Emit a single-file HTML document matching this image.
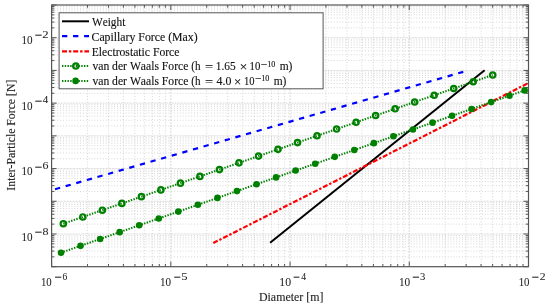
<!DOCTYPE html>
<html><head><meta charset="utf-8"><style>
html,body{margin:0;padding:0;background:#fff;overflow:hidden}
svg{display:block;filter:blur(0.3px)}
text{font-kerning:none}
</style></head><body>
<svg width="550" height="308" viewBox="0 0 550 308">
<rect x="0" y="0" width="550" height="308" fill="#fff"/>
<g fill="none" stroke-width="0.8">
<line x1="87.49" y1="5.00" x2="87.49" y2="266.70" stroke="#c8c8c8" stroke-dasharray="0.9 1.95"/>
<line x1="108.48" y1="5.00" x2="108.48" y2="266.70" stroke="#c8c8c8" stroke-dasharray="0.9 1.95"/>
<line x1="123.38" y1="5.00" x2="123.38" y2="266.70" stroke="#c8c8c8" stroke-dasharray="0.9 1.95"/>
<line x1="134.93" y1="5.00" x2="134.93" y2="266.70" stroke="#c8c8c8" stroke-dasharray="0.9 1.95"/>
<line x1="144.38" y1="5.00" x2="144.38" y2="266.70" stroke="#c8c8c8" stroke-dasharray="0.9 1.95"/>
<line x1="152.36" y1="5.00" x2="152.36" y2="266.70" stroke="#c8c8c8" stroke-dasharray="0.9 1.95"/>
<line x1="159.27" y1="5.00" x2="159.27" y2="266.70" stroke="#c8c8c8" stroke-dasharray="0.9 1.95"/>
<line x1="165.37" y1="5.00" x2="165.37" y2="266.70" stroke="#c8c8c8" stroke-dasharray="0.9 1.95"/>
<line x1="170.82" y1="5.00" x2="170.82" y2="266.70" stroke="#cfcfcf" stroke-width="0.8" stroke-dasharray="2 1"/>
<line x1="206.72" y1="5.00" x2="206.72" y2="266.70" stroke="#c8c8c8" stroke-dasharray="0.9 1.95"/>
<line x1="227.71" y1="5.00" x2="227.71" y2="266.70" stroke="#c8c8c8" stroke-dasharray="0.9 1.95"/>
<line x1="242.61" y1="5.00" x2="242.61" y2="266.70" stroke="#c8c8c8" stroke-dasharray="0.9 1.95"/>
<line x1="254.16" y1="5.00" x2="254.16" y2="266.70" stroke="#c8c8c8" stroke-dasharray="0.9 1.95"/>
<line x1="263.60" y1="5.00" x2="263.60" y2="266.70" stroke="#c8c8c8" stroke-dasharray="0.9 1.95"/>
<line x1="271.58" y1="5.00" x2="271.58" y2="266.70" stroke="#c8c8c8" stroke-dasharray="0.9 1.95"/>
<line x1="278.50" y1="5.00" x2="278.50" y2="266.70" stroke="#c8c8c8" stroke-dasharray="0.9 1.95"/>
<line x1="284.59" y1="5.00" x2="284.59" y2="266.70" stroke="#c8c8c8" stroke-dasharray="0.9 1.95"/>
<line x1="290.05" y1="5.00" x2="290.05" y2="266.70" stroke="#cfcfcf" stroke-width="0.8" stroke-dasharray="2 1"/>
<line x1="325.94" y1="5.00" x2="325.94" y2="266.70" stroke="#c8c8c8" stroke-dasharray="0.9 1.95"/>
<line x1="346.93" y1="5.00" x2="346.93" y2="266.70" stroke="#c8c8c8" stroke-dasharray="0.9 1.95"/>
<line x1="361.83" y1="5.00" x2="361.83" y2="266.70" stroke="#c8c8c8" stroke-dasharray="0.9 1.95"/>
<line x1="373.38" y1="5.00" x2="373.38" y2="266.70" stroke="#c8c8c8" stroke-dasharray="0.9 1.95"/>
<line x1="382.83" y1="5.00" x2="382.83" y2="266.70" stroke="#c8c8c8" stroke-dasharray="0.9 1.95"/>
<line x1="390.81" y1="5.00" x2="390.81" y2="266.70" stroke="#c8c8c8" stroke-dasharray="0.9 1.95"/>
<line x1="397.72" y1="5.00" x2="397.72" y2="266.70" stroke="#c8c8c8" stroke-dasharray="0.9 1.95"/>
<line x1="403.82" y1="5.00" x2="403.82" y2="266.70" stroke="#c8c8c8" stroke-dasharray="0.9 1.95"/>
<line x1="409.27" y1="5.00" x2="409.27" y2="266.70" stroke="#cfcfcf" stroke-width="0.8" stroke-dasharray="2 1"/>
<line x1="445.17" y1="5.00" x2="445.17" y2="266.70" stroke="#c8c8c8" stroke-dasharray="0.9 1.95"/>
<line x1="466.16" y1="5.00" x2="466.16" y2="266.70" stroke="#c8c8c8" stroke-dasharray="0.9 1.95"/>
<line x1="481.06" y1="5.00" x2="481.06" y2="266.70" stroke="#c8c8c8" stroke-dasharray="0.9 1.95"/>
<line x1="492.61" y1="5.00" x2="492.61" y2="266.70" stroke="#c8c8c8" stroke-dasharray="0.9 1.95"/>
<line x1="502.05" y1="5.00" x2="502.05" y2="266.70" stroke="#c8c8c8" stroke-dasharray="0.9 1.95"/>
<line x1="510.03" y1="5.00" x2="510.03" y2="266.70" stroke="#c8c8c8" stroke-dasharray="0.9 1.95"/>
<line x1="516.95" y1="5.00" x2="516.95" y2="266.70" stroke="#c8c8c8" stroke-dasharray="0.9 1.95"/>
<line x1="523.04" y1="5.00" x2="523.04" y2="266.70" stroke="#c8c8c8" stroke-dasharray="0.9 1.95"/>
<line x1="51.60" y1="256.85" x2="528.50" y2="256.85" stroke="#c8c8c8" stroke-dasharray="0.9 1.95"/>
<line x1="51.60" y1="251.09" x2="528.50" y2="251.09" stroke="#c8c8c8" stroke-dasharray="0.9 1.95"/>
<line x1="51.60" y1="247.01" x2="528.50" y2="247.01" stroke="#c8c8c8" stroke-dasharray="0.9 1.95"/>
<line x1="51.60" y1="243.83" x2="528.50" y2="243.83" stroke="#c8c8c8" stroke-dasharray="0.9 1.95"/>
<line x1="51.60" y1="241.24" x2="528.50" y2="241.24" stroke="#c8c8c8" stroke-dasharray="0.9 1.95"/>
<line x1="51.60" y1="239.05" x2="528.50" y2="239.05" stroke="#c8c8c8" stroke-dasharray="0.9 1.95"/>
<line x1="51.60" y1="237.16" x2="528.50" y2="237.16" stroke="#c8c8c8" stroke-dasharray="0.9 1.95"/>
<line x1="51.60" y1="235.48" x2="528.50" y2="235.48" stroke="#c8c8c8" stroke-dasharray="0.9 1.95"/>
<line x1="51.60" y1="233.99" x2="528.50" y2="233.99" stroke="#cfcfcf" stroke-width="0.8" stroke-dasharray="2 1"/>
<line x1="51.60" y1="224.14" x2="528.50" y2="224.14" stroke="#c8c8c8" stroke-dasharray="0.9 1.95"/>
<line x1="51.60" y1="218.38" x2="528.50" y2="218.38" stroke="#c8c8c8" stroke-dasharray="0.9 1.95"/>
<line x1="51.60" y1="214.29" x2="528.50" y2="214.29" stroke="#c8c8c8" stroke-dasharray="0.9 1.95"/>
<line x1="51.60" y1="211.12" x2="528.50" y2="211.12" stroke="#c8c8c8" stroke-dasharray="0.9 1.95"/>
<line x1="51.60" y1="208.53" x2="528.50" y2="208.53" stroke="#c8c8c8" stroke-dasharray="0.9 1.95"/>
<line x1="51.60" y1="206.34" x2="528.50" y2="206.34" stroke="#c8c8c8" stroke-dasharray="0.9 1.95"/>
<line x1="51.60" y1="204.45" x2="528.50" y2="204.45" stroke="#c8c8c8" stroke-dasharray="0.9 1.95"/>
<line x1="51.60" y1="202.77" x2="528.50" y2="202.77" stroke="#c8c8c8" stroke-dasharray="0.9 1.95"/>
<line x1="51.60" y1="201.27" x2="528.50" y2="201.27" stroke="#cfcfcf" stroke-width="0.8" stroke-dasharray="2 1"/>
<line x1="51.60" y1="191.43" x2="528.50" y2="191.43" stroke="#c8c8c8" stroke-dasharray="0.9 1.95"/>
<line x1="51.60" y1="185.67" x2="528.50" y2="185.67" stroke="#c8c8c8" stroke-dasharray="0.9 1.95"/>
<line x1="51.60" y1="181.58" x2="528.50" y2="181.58" stroke="#c8c8c8" stroke-dasharray="0.9 1.95"/>
<line x1="51.60" y1="178.41" x2="528.50" y2="178.41" stroke="#c8c8c8" stroke-dasharray="0.9 1.95"/>
<line x1="51.60" y1="175.82" x2="528.50" y2="175.82" stroke="#c8c8c8" stroke-dasharray="0.9 1.95"/>
<line x1="51.60" y1="173.63" x2="528.50" y2="173.63" stroke="#c8c8c8" stroke-dasharray="0.9 1.95"/>
<line x1="51.60" y1="171.73" x2="528.50" y2="171.73" stroke="#c8c8c8" stroke-dasharray="0.9 1.95"/>
<line x1="51.60" y1="170.06" x2="528.50" y2="170.06" stroke="#c8c8c8" stroke-dasharray="0.9 1.95"/>
<line x1="51.60" y1="168.56" x2="528.50" y2="168.56" stroke="#cfcfcf" stroke-width="0.8" stroke-dasharray="2 1"/>
<line x1="51.60" y1="158.72" x2="528.50" y2="158.72" stroke="#c8c8c8" stroke-dasharray="0.9 1.95"/>
<line x1="51.60" y1="152.95" x2="528.50" y2="152.95" stroke="#c8c8c8" stroke-dasharray="0.9 1.95"/>
<line x1="51.60" y1="148.87" x2="528.50" y2="148.87" stroke="#c8c8c8" stroke-dasharray="0.9 1.95"/>
<line x1="51.60" y1="145.70" x2="528.50" y2="145.70" stroke="#c8c8c8" stroke-dasharray="0.9 1.95"/>
<line x1="51.60" y1="143.11" x2="528.50" y2="143.11" stroke="#c8c8c8" stroke-dasharray="0.9 1.95"/>
<line x1="51.60" y1="140.92" x2="528.50" y2="140.92" stroke="#c8c8c8" stroke-dasharray="0.9 1.95"/>
<line x1="51.60" y1="139.02" x2="528.50" y2="139.02" stroke="#c8c8c8" stroke-dasharray="0.9 1.95"/>
<line x1="51.60" y1="137.35" x2="528.50" y2="137.35" stroke="#c8c8c8" stroke-dasharray="0.9 1.95"/>
<line x1="51.60" y1="135.85" x2="528.50" y2="135.85" stroke="#cfcfcf" stroke-width="0.8" stroke-dasharray="2 1"/>
<line x1="51.60" y1="126.00" x2="528.50" y2="126.00" stroke="#c8c8c8" stroke-dasharray="0.9 1.95"/>
<line x1="51.60" y1="120.24" x2="528.50" y2="120.24" stroke="#c8c8c8" stroke-dasharray="0.9 1.95"/>
<line x1="51.60" y1="116.16" x2="528.50" y2="116.16" stroke="#c8c8c8" stroke-dasharray="0.9 1.95"/>
<line x1="51.60" y1="112.98" x2="528.50" y2="112.98" stroke="#c8c8c8" stroke-dasharray="0.9 1.95"/>
<line x1="51.60" y1="110.39" x2="528.50" y2="110.39" stroke="#c8c8c8" stroke-dasharray="0.9 1.95"/>
<line x1="51.60" y1="108.20" x2="528.50" y2="108.20" stroke="#c8c8c8" stroke-dasharray="0.9 1.95"/>
<line x1="51.60" y1="106.31" x2="528.50" y2="106.31" stroke="#c8c8c8" stroke-dasharray="0.9 1.95"/>
<line x1="51.60" y1="104.63" x2="528.50" y2="104.63" stroke="#c8c8c8" stroke-dasharray="0.9 1.95"/>
<line x1="51.60" y1="103.14" x2="528.50" y2="103.14" stroke="#cfcfcf" stroke-width="0.8" stroke-dasharray="2 1"/>
<line x1="51.60" y1="93.29" x2="528.50" y2="93.29" stroke="#c8c8c8" stroke-dasharray="0.9 1.95"/>
<line x1="51.60" y1="87.53" x2="528.50" y2="87.53" stroke="#c8c8c8" stroke-dasharray="0.9 1.95"/>
<line x1="51.60" y1="83.44" x2="528.50" y2="83.44" stroke="#c8c8c8" stroke-dasharray="0.9 1.95"/>
<line x1="51.60" y1="80.27" x2="528.50" y2="80.27" stroke="#c8c8c8" stroke-dasharray="0.9 1.95"/>
<line x1="51.60" y1="77.68" x2="528.50" y2="77.68" stroke="#c8c8c8" stroke-dasharray="0.9 1.95"/>
<line x1="51.60" y1="75.49" x2="528.50" y2="75.49" stroke="#c8c8c8" stroke-dasharray="0.9 1.95"/>
<line x1="51.60" y1="73.60" x2="528.50" y2="73.60" stroke="#c8c8c8" stroke-dasharray="0.9 1.95"/>
<line x1="51.60" y1="71.92" x2="528.50" y2="71.92" stroke="#c8c8c8" stroke-dasharray="0.9 1.95"/>
<line x1="51.60" y1="70.42" x2="528.50" y2="70.42" stroke="#cfcfcf" stroke-width="0.8" stroke-dasharray="2 1"/>
<line x1="51.60" y1="60.58" x2="528.50" y2="60.58" stroke="#c8c8c8" stroke-dasharray="0.9 1.95"/>
<line x1="51.60" y1="54.82" x2="528.50" y2="54.82" stroke="#c8c8c8" stroke-dasharray="0.9 1.95"/>
<line x1="51.60" y1="50.73" x2="528.50" y2="50.73" stroke="#c8c8c8" stroke-dasharray="0.9 1.95"/>
<line x1="51.60" y1="47.56" x2="528.50" y2="47.56" stroke="#c8c8c8" stroke-dasharray="0.9 1.95"/>
<line x1="51.60" y1="44.97" x2="528.50" y2="44.97" stroke="#c8c8c8" stroke-dasharray="0.9 1.95"/>
<line x1="51.60" y1="42.78" x2="528.50" y2="42.78" stroke="#c8c8c8" stroke-dasharray="0.9 1.95"/>
<line x1="51.60" y1="40.88" x2="528.50" y2="40.88" stroke="#c8c8c8" stroke-dasharray="0.9 1.95"/>
<line x1="51.60" y1="39.21" x2="528.50" y2="39.21" stroke="#c8c8c8" stroke-dasharray="0.9 1.95"/>
<line x1="51.60" y1="37.71" x2="528.50" y2="37.71" stroke="#cfcfcf" stroke-width="0.8" stroke-dasharray="2 1"/>
<line x1="51.60" y1="27.87" x2="528.50" y2="27.87" stroke="#c8c8c8" stroke-dasharray="0.9 1.95"/>
<line x1="51.60" y1="22.10" x2="528.50" y2="22.10" stroke="#c8c8c8" stroke-dasharray="0.9 1.95"/>
<line x1="51.60" y1="18.02" x2="528.50" y2="18.02" stroke="#c8c8c8" stroke-dasharray="0.9 1.95"/>
<line x1="51.60" y1="14.85" x2="528.50" y2="14.85" stroke="#c8c8c8" stroke-dasharray="0.9 1.95"/>
<line x1="51.60" y1="12.26" x2="528.50" y2="12.26" stroke="#c8c8c8" stroke-dasharray="0.9 1.95"/>
<line x1="51.60" y1="10.07" x2="528.50" y2="10.07" stroke="#c8c8c8" stroke-dasharray="0.9 1.95"/>
<line x1="51.60" y1="8.17" x2="528.50" y2="8.17" stroke="#c8c8c8" stroke-dasharray="0.9 1.95"/>
<line x1="51.60" y1="6.50" x2="528.50" y2="6.50" stroke="#c8c8c8" stroke-dasharray="0.9 1.95"/>
</g>
<g stroke="#555555" stroke-width="1" fill="none">
<line x1="51.60" y1="266.70" x2="51.60" y2="261.70"/>
<line x1="51.60" y1="5.00" x2="51.60" y2="10.00"/>
<line x1="87.49" y1="266.70" x2="87.49" y2="264.00"/>
<line x1="87.49" y1="5.00" x2="87.49" y2="7.70"/>
<line x1="108.48" y1="266.70" x2="108.48" y2="264.00"/>
<line x1="108.48" y1="5.00" x2="108.48" y2="7.70"/>
<line x1="123.38" y1="266.70" x2="123.38" y2="264.00"/>
<line x1="123.38" y1="5.00" x2="123.38" y2="7.70"/>
<line x1="134.93" y1="266.70" x2="134.93" y2="264.00"/>
<line x1="134.93" y1="5.00" x2="134.93" y2="7.70"/>
<line x1="144.38" y1="266.70" x2="144.38" y2="264.00"/>
<line x1="144.38" y1="5.00" x2="144.38" y2="7.70"/>
<line x1="152.36" y1="266.70" x2="152.36" y2="264.00"/>
<line x1="152.36" y1="5.00" x2="152.36" y2="7.70"/>
<line x1="159.27" y1="266.70" x2="159.27" y2="264.00"/>
<line x1="159.27" y1="5.00" x2="159.27" y2="7.70"/>
<line x1="165.37" y1="266.70" x2="165.37" y2="264.00"/>
<line x1="165.37" y1="5.00" x2="165.37" y2="7.70"/>
<line x1="170.82" y1="266.70" x2="170.82" y2="261.70"/>
<line x1="170.82" y1="5.00" x2="170.82" y2="10.00"/>
<line x1="206.72" y1="266.70" x2="206.72" y2="264.00"/>
<line x1="206.72" y1="5.00" x2="206.72" y2="7.70"/>
<line x1="227.71" y1="266.70" x2="227.71" y2="264.00"/>
<line x1="227.71" y1="5.00" x2="227.71" y2="7.70"/>
<line x1="242.61" y1="266.70" x2="242.61" y2="264.00"/>
<line x1="242.61" y1="5.00" x2="242.61" y2="7.70"/>
<line x1="254.16" y1="266.70" x2="254.16" y2="264.00"/>
<line x1="254.16" y1="5.00" x2="254.16" y2="7.70"/>
<line x1="263.60" y1="266.70" x2="263.60" y2="264.00"/>
<line x1="263.60" y1="5.00" x2="263.60" y2="7.70"/>
<line x1="271.58" y1="266.70" x2="271.58" y2="264.00"/>
<line x1="271.58" y1="5.00" x2="271.58" y2="7.70"/>
<line x1="278.50" y1="266.70" x2="278.50" y2="264.00"/>
<line x1="278.50" y1="5.00" x2="278.50" y2="7.70"/>
<line x1="284.59" y1="266.70" x2="284.59" y2="264.00"/>
<line x1="284.59" y1="5.00" x2="284.59" y2="7.70"/>
<line x1="290.05" y1="266.70" x2="290.05" y2="261.70"/>
<line x1="290.05" y1="5.00" x2="290.05" y2="10.00"/>
<line x1="325.94" y1="266.70" x2="325.94" y2="264.00"/>
<line x1="325.94" y1="5.00" x2="325.94" y2="7.70"/>
<line x1="346.93" y1="266.70" x2="346.93" y2="264.00"/>
<line x1="346.93" y1="5.00" x2="346.93" y2="7.70"/>
<line x1="361.83" y1="266.70" x2="361.83" y2="264.00"/>
<line x1="361.83" y1="5.00" x2="361.83" y2="7.70"/>
<line x1="373.38" y1="266.70" x2="373.38" y2="264.00"/>
<line x1="373.38" y1="5.00" x2="373.38" y2="7.70"/>
<line x1="382.83" y1="266.70" x2="382.83" y2="264.00"/>
<line x1="382.83" y1="5.00" x2="382.83" y2="7.70"/>
<line x1="390.81" y1="266.70" x2="390.81" y2="264.00"/>
<line x1="390.81" y1="5.00" x2="390.81" y2="7.70"/>
<line x1="397.72" y1="266.70" x2="397.72" y2="264.00"/>
<line x1="397.72" y1="5.00" x2="397.72" y2="7.70"/>
<line x1="403.82" y1="266.70" x2="403.82" y2="264.00"/>
<line x1="403.82" y1="5.00" x2="403.82" y2="7.70"/>
<line x1="409.27" y1="266.70" x2="409.27" y2="261.70"/>
<line x1="409.27" y1="5.00" x2="409.27" y2="10.00"/>
<line x1="445.17" y1="266.70" x2="445.17" y2="264.00"/>
<line x1="445.17" y1="5.00" x2="445.17" y2="7.70"/>
<line x1="466.16" y1="266.70" x2="466.16" y2="264.00"/>
<line x1="466.16" y1="5.00" x2="466.16" y2="7.70"/>
<line x1="481.06" y1="266.70" x2="481.06" y2="264.00"/>
<line x1="481.06" y1="5.00" x2="481.06" y2="7.70"/>
<line x1="492.61" y1="266.70" x2="492.61" y2="264.00"/>
<line x1="492.61" y1="5.00" x2="492.61" y2="7.70"/>
<line x1="502.05" y1="266.70" x2="502.05" y2="264.00"/>
<line x1="502.05" y1="5.00" x2="502.05" y2="7.70"/>
<line x1="510.03" y1="266.70" x2="510.03" y2="264.00"/>
<line x1="510.03" y1="5.00" x2="510.03" y2="7.70"/>
<line x1="516.95" y1="266.70" x2="516.95" y2="264.00"/>
<line x1="516.95" y1="5.00" x2="516.95" y2="7.70"/>
<line x1="523.04" y1="266.70" x2="523.04" y2="264.00"/>
<line x1="523.04" y1="5.00" x2="523.04" y2="7.70"/>
<line x1="528.50" y1="266.70" x2="528.50" y2="261.70"/>
<line x1="528.50" y1="5.00" x2="528.50" y2="10.00"/>
<line x1="51.60" y1="266.70" x2="56.60" y2="266.70"/>
<line x1="528.50" y1="266.70" x2="523.50" y2="266.70"/>
<line x1="51.60" y1="256.85" x2="54.30" y2="256.85"/>
<line x1="528.50" y1="256.85" x2="525.80" y2="256.85"/>
<line x1="51.60" y1="251.09" x2="54.30" y2="251.09"/>
<line x1="528.50" y1="251.09" x2="525.80" y2="251.09"/>
<line x1="51.60" y1="247.01" x2="54.30" y2="247.01"/>
<line x1="528.50" y1="247.01" x2="525.80" y2="247.01"/>
<line x1="51.60" y1="243.83" x2="54.30" y2="243.83"/>
<line x1="528.50" y1="243.83" x2="525.80" y2="243.83"/>
<line x1="51.60" y1="241.24" x2="54.30" y2="241.24"/>
<line x1="528.50" y1="241.24" x2="525.80" y2="241.24"/>
<line x1="51.60" y1="239.05" x2="54.30" y2="239.05"/>
<line x1="528.50" y1="239.05" x2="525.80" y2="239.05"/>
<line x1="51.60" y1="237.16" x2="54.30" y2="237.16"/>
<line x1="528.50" y1="237.16" x2="525.80" y2="237.16"/>
<line x1="51.60" y1="235.48" x2="54.30" y2="235.48"/>
<line x1="528.50" y1="235.48" x2="525.80" y2="235.48"/>
<line x1="51.60" y1="233.99" x2="56.60" y2="233.99"/>
<line x1="528.50" y1="233.99" x2="523.50" y2="233.99"/>
<line x1="51.60" y1="224.14" x2="54.30" y2="224.14"/>
<line x1="528.50" y1="224.14" x2="525.80" y2="224.14"/>
<line x1="51.60" y1="218.38" x2="54.30" y2="218.38"/>
<line x1="528.50" y1="218.38" x2="525.80" y2="218.38"/>
<line x1="51.60" y1="214.29" x2="54.30" y2="214.29"/>
<line x1="528.50" y1="214.29" x2="525.80" y2="214.29"/>
<line x1="51.60" y1="211.12" x2="54.30" y2="211.12"/>
<line x1="528.50" y1="211.12" x2="525.80" y2="211.12"/>
<line x1="51.60" y1="208.53" x2="54.30" y2="208.53"/>
<line x1="528.50" y1="208.53" x2="525.80" y2="208.53"/>
<line x1="51.60" y1="206.34" x2="54.30" y2="206.34"/>
<line x1="528.50" y1="206.34" x2="525.80" y2="206.34"/>
<line x1="51.60" y1="204.45" x2="54.30" y2="204.45"/>
<line x1="528.50" y1="204.45" x2="525.80" y2="204.45"/>
<line x1="51.60" y1="202.77" x2="54.30" y2="202.77"/>
<line x1="528.50" y1="202.77" x2="525.80" y2="202.77"/>
<line x1="51.60" y1="201.27" x2="56.60" y2="201.27"/>
<line x1="528.50" y1="201.27" x2="523.50" y2="201.27"/>
<line x1="51.60" y1="191.43" x2="54.30" y2="191.43"/>
<line x1="528.50" y1="191.43" x2="525.80" y2="191.43"/>
<line x1="51.60" y1="185.67" x2="54.30" y2="185.67"/>
<line x1="528.50" y1="185.67" x2="525.80" y2="185.67"/>
<line x1="51.60" y1="181.58" x2="54.30" y2="181.58"/>
<line x1="528.50" y1="181.58" x2="525.80" y2="181.58"/>
<line x1="51.60" y1="178.41" x2="54.30" y2="178.41"/>
<line x1="528.50" y1="178.41" x2="525.80" y2="178.41"/>
<line x1="51.60" y1="175.82" x2="54.30" y2="175.82"/>
<line x1="528.50" y1="175.82" x2="525.80" y2="175.82"/>
<line x1="51.60" y1="173.63" x2="54.30" y2="173.63"/>
<line x1="528.50" y1="173.63" x2="525.80" y2="173.63"/>
<line x1="51.60" y1="171.73" x2="54.30" y2="171.73"/>
<line x1="528.50" y1="171.73" x2="525.80" y2="171.73"/>
<line x1="51.60" y1="170.06" x2="54.30" y2="170.06"/>
<line x1="528.50" y1="170.06" x2="525.80" y2="170.06"/>
<line x1="51.60" y1="168.56" x2="56.60" y2="168.56"/>
<line x1="528.50" y1="168.56" x2="523.50" y2="168.56"/>
<line x1="51.60" y1="158.72" x2="54.30" y2="158.72"/>
<line x1="528.50" y1="158.72" x2="525.80" y2="158.72"/>
<line x1="51.60" y1="152.95" x2="54.30" y2="152.95"/>
<line x1="528.50" y1="152.95" x2="525.80" y2="152.95"/>
<line x1="51.60" y1="148.87" x2="54.30" y2="148.87"/>
<line x1="528.50" y1="148.87" x2="525.80" y2="148.87"/>
<line x1="51.60" y1="145.70" x2="54.30" y2="145.70"/>
<line x1="528.50" y1="145.70" x2="525.80" y2="145.70"/>
<line x1="51.60" y1="143.11" x2="54.30" y2="143.11"/>
<line x1="528.50" y1="143.11" x2="525.80" y2="143.11"/>
<line x1="51.60" y1="140.92" x2="54.30" y2="140.92"/>
<line x1="528.50" y1="140.92" x2="525.80" y2="140.92"/>
<line x1="51.60" y1="139.02" x2="54.30" y2="139.02"/>
<line x1="528.50" y1="139.02" x2="525.80" y2="139.02"/>
<line x1="51.60" y1="137.35" x2="54.30" y2="137.35"/>
<line x1="528.50" y1="137.35" x2="525.80" y2="137.35"/>
<line x1="51.60" y1="135.85" x2="56.60" y2="135.85"/>
<line x1="528.50" y1="135.85" x2="523.50" y2="135.85"/>
<line x1="51.60" y1="126.00" x2="54.30" y2="126.00"/>
<line x1="528.50" y1="126.00" x2="525.80" y2="126.00"/>
<line x1="51.60" y1="120.24" x2="54.30" y2="120.24"/>
<line x1="528.50" y1="120.24" x2="525.80" y2="120.24"/>
<line x1="51.60" y1="116.16" x2="54.30" y2="116.16"/>
<line x1="528.50" y1="116.16" x2="525.80" y2="116.16"/>
<line x1="51.60" y1="112.98" x2="54.30" y2="112.98"/>
<line x1="528.50" y1="112.98" x2="525.80" y2="112.98"/>
<line x1="51.60" y1="110.39" x2="54.30" y2="110.39"/>
<line x1="528.50" y1="110.39" x2="525.80" y2="110.39"/>
<line x1="51.60" y1="108.20" x2="54.30" y2="108.20"/>
<line x1="528.50" y1="108.20" x2="525.80" y2="108.20"/>
<line x1="51.60" y1="106.31" x2="54.30" y2="106.31"/>
<line x1="528.50" y1="106.31" x2="525.80" y2="106.31"/>
<line x1="51.60" y1="104.63" x2="54.30" y2="104.63"/>
<line x1="528.50" y1="104.63" x2="525.80" y2="104.63"/>
<line x1="51.60" y1="103.14" x2="56.60" y2="103.14"/>
<line x1="528.50" y1="103.14" x2="523.50" y2="103.14"/>
<line x1="51.60" y1="93.29" x2="54.30" y2="93.29"/>
<line x1="528.50" y1="93.29" x2="525.80" y2="93.29"/>
<line x1="51.60" y1="87.53" x2="54.30" y2="87.53"/>
<line x1="528.50" y1="87.53" x2="525.80" y2="87.53"/>
<line x1="51.60" y1="83.44" x2="54.30" y2="83.44"/>
<line x1="528.50" y1="83.44" x2="525.80" y2="83.44"/>
<line x1="51.60" y1="80.27" x2="54.30" y2="80.27"/>
<line x1="528.50" y1="80.27" x2="525.80" y2="80.27"/>
<line x1="51.60" y1="77.68" x2="54.30" y2="77.68"/>
<line x1="528.50" y1="77.68" x2="525.80" y2="77.68"/>
<line x1="51.60" y1="75.49" x2="54.30" y2="75.49"/>
<line x1="528.50" y1="75.49" x2="525.80" y2="75.49"/>
<line x1="51.60" y1="73.60" x2="54.30" y2="73.60"/>
<line x1="528.50" y1="73.60" x2="525.80" y2="73.60"/>
<line x1="51.60" y1="71.92" x2="54.30" y2="71.92"/>
<line x1="528.50" y1="71.92" x2="525.80" y2="71.92"/>
<line x1="51.60" y1="70.42" x2="56.60" y2="70.42"/>
<line x1="528.50" y1="70.42" x2="523.50" y2="70.42"/>
<line x1="51.60" y1="60.58" x2="54.30" y2="60.58"/>
<line x1="528.50" y1="60.58" x2="525.80" y2="60.58"/>
<line x1="51.60" y1="54.82" x2="54.30" y2="54.82"/>
<line x1="528.50" y1="54.82" x2="525.80" y2="54.82"/>
<line x1="51.60" y1="50.73" x2="54.30" y2="50.73"/>
<line x1="528.50" y1="50.73" x2="525.80" y2="50.73"/>
<line x1="51.60" y1="47.56" x2="54.30" y2="47.56"/>
<line x1="528.50" y1="47.56" x2="525.80" y2="47.56"/>
<line x1="51.60" y1="44.97" x2="54.30" y2="44.97"/>
<line x1="528.50" y1="44.97" x2="525.80" y2="44.97"/>
<line x1="51.60" y1="42.78" x2="54.30" y2="42.78"/>
<line x1="528.50" y1="42.78" x2="525.80" y2="42.78"/>
<line x1="51.60" y1="40.88" x2="54.30" y2="40.88"/>
<line x1="528.50" y1="40.88" x2="525.80" y2="40.88"/>
<line x1="51.60" y1="39.21" x2="54.30" y2="39.21"/>
<line x1="528.50" y1="39.21" x2="525.80" y2="39.21"/>
<line x1="51.60" y1="37.71" x2="56.60" y2="37.71"/>
<line x1="528.50" y1="37.71" x2="523.50" y2="37.71"/>
<line x1="51.60" y1="27.87" x2="54.30" y2="27.87"/>
<line x1="528.50" y1="27.87" x2="525.80" y2="27.87"/>
<line x1="51.60" y1="22.10" x2="54.30" y2="22.10"/>
<line x1="528.50" y1="22.10" x2="525.80" y2="22.10"/>
<line x1="51.60" y1="18.02" x2="54.30" y2="18.02"/>
<line x1="528.50" y1="18.02" x2="525.80" y2="18.02"/>
<line x1="51.60" y1="14.85" x2="54.30" y2="14.85"/>
<line x1="528.50" y1="14.85" x2="525.80" y2="14.85"/>
<line x1="51.60" y1="12.26" x2="54.30" y2="12.26"/>
<line x1="528.50" y1="12.26" x2="525.80" y2="12.26"/>
<line x1="51.60" y1="10.07" x2="54.30" y2="10.07"/>
<line x1="528.50" y1="10.07" x2="525.80" y2="10.07"/>
<line x1="51.60" y1="8.17" x2="54.30" y2="8.17"/>
<line x1="528.50" y1="8.17" x2="525.80" y2="8.17"/>
<line x1="51.60" y1="6.50" x2="54.30" y2="6.50"/>
<line x1="528.50" y1="6.50" x2="525.80" y2="6.50"/>
<line x1="51.60" y1="5.00" x2="56.60" y2="5.00"/>
<line x1="528.50" y1="5.00" x2="523.50" y2="5.00"/>
</g>
<g fill="none">
<line x1="270.10" y1="242.80" x2="484.60" y2="70.20" stroke="#000" stroke-width="2"/>
<line x1="55.00" y1="189.20" x2="463.80" y2="71.70" stroke="#0000ff" stroke-width="2.2" stroke-dasharray="5.3 5.74"/>
<line x1="213.20" y1="243.10" x2="528.50" y2="83.00" stroke="#ff0000" stroke-width="2.2" stroke-dasharray="5 1.9 2.4 1.9"/>
<line x1="63.30" y1="223.70" x2="492.74" y2="74.98" stroke="#008000" stroke-width="2" stroke-dasharray="1.4 1.35"/>
</g>
<g stroke="#008000" fill="none" stroke-width="2.2">
<circle cx="63.30" cy="223.70" r="2.7"/>
<circle cx="82.82" cy="216.94" r="2.7"/>
<circle cx="102.34" cy="210.18" r="2.7"/>
<circle cx="121.86" cy="203.42" r="2.7"/>
<circle cx="141.38" cy="196.66" r="2.7"/>
<circle cx="160.90" cy="189.90" r="2.7"/>
<circle cx="180.42" cy="183.14" r="2.7"/>
<circle cx="199.94" cy="176.38" r="2.7"/>
<circle cx="219.46" cy="169.62" r="2.7"/>
<circle cx="238.98" cy="162.86" r="2.7"/>
<circle cx="258.50" cy="156.10" r="2.7"/>
<circle cx="278.02" cy="149.34" r="2.7"/>
<circle cx="297.54" cy="142.58" r="2.7"/>
<circle cx="317.06" cy="135.82" r="2.7"/>
<circle cx="336.58" cy="129.06" r="2.7"/>
<circle cx="356.10" cy="122.30" r="2.7"/>
<circle cx="375.62" cy="115.54" r="2.7"/>
<circle cx="395.14" cy="108.78" r="2.7"/>
<circle cx="414.66" cy="102.02" r="2.7"/>
<circle cx="434.18" cy="95.26" r="2.7"/>
<circle cx="453.70" cy="88.50" r="2.7"/>
<circle cx="473.22" cy="81.74" r="2.7"/>
<circle cx="492.74" cy="74.98" r="2.7"/>
</g>
<line x1="61.00" y1="252.68" x2="524.65" y2="90.38" fill="none" stroke="#008000" stroke-width="2" stroke-dasharray="1.4 1.35"/>
<g fill="#008000">
<circle cx="61.00" cy="252.68" r="3.3"/>
<circle cx="80.55" cy="245.83" r="3.3"/>
<circle cx="100.11" cy="238.99" r="3.3"/>
<circle cx="119.66" cy="232.14" r="3.3"/>
<circle cx="139.21" cy="225.30" r="3.3"/>
<circle cx="158.76" cy="218.45" r="3.3"/>
<circle cx="178.32" cy="211.61" r="3.3"/>
<circle cx="197.87" cy="204.77" r="3.3"/>
<circle cx="217.42" cy="197.92" r="3.3"/>
<circle cx="236.98" cy="191.08" r="3.3"/>
<circle cx="256.53" cy="184.23" r="3.3"/>
<circle cx="276.08" cy="177.39" r="3.3"/>
<circle cx="295.64" cy="170.54" r="3.3"/>
<circle cx="315.19" cy="163.70" r="3.3"/>
<circle cx="334.74" cy="156.86" r="3.3"/>
<circle cx="354.30" cy="150.01" r="3.3"/>
<circle cx="373.85" cy="143.17" r="3.3"/>
<circle cx="393.40" cy="136.32" r="3.3"/>
<circle cx="412.95" cy="129.48" r="3.3"/>
<circle cx="432.51" cy="122.64" r="3.3"/>
<circle cx="452.06" cy="115.79" r="3.3"/>
<circle cx="471.61" cy="108.95" r="3.3"/>
<circle cx="491.17" cy="102.10" r="3.3"/>
<circle cx="509.50" cy="95.69" r="3.3"/>
<circle cx="524.65" cy="90.38" r="3.3"/>
</g>
<rect x="51.60" y="5.00" width="476.90" height="261.70" fill="none" stroke="#555555" stroke-width="1.2"/>
<rect x="59.1" y="12.8" width="264" height="76" fill="#fff" stroke="#555" stroke-width="1"/>
<line x1="62.00" y1="21.30" x2="89.00" y2="21.30" stroke="#000" stroke-width="2"/>
<line x1="62.00" y1="36.20" x2="89.00" y2="36.20" stroke="#0000ff" stroke-width="2.2" stroke-dasharray="5.3 5.74"/>
<line x1="62.00" y1="51.30" x2="89.00" y2="51.30" stroke="#ff0000" stroke-width="2.2" stroke-dasharray="5 1.9 2.4 1.9"/>
<line x1="62.00" y1="66.00" x2="89.00" y2="66.00" stroke="#008000" stroke-width="2" stroke-dasharray="1.4 1.35"/>
<line x1="62.00" y1="80.90" x2="89.00" y2="80.90" stroke="#008000" stroke-width="2" stroke-dasharray="1.4 1.35"/>
<circle cx="75.8" cy="66.0" r="2.7" fill="none" stroke="#008000" stroke-width="2.2"/>
<circle cx="75.6" cy="80.9" r="3.3" fill="#008000"/>
<g font-family="'Liberation Serif', serif" fill="#111" stroke="#111" stroke-width="0.12">
<text transform="translate(91.99,25.70) scale(0.9776,1.000)" font-size="11.6">Weight</text>
<text transform="translate(91.52,40.60) scale(1.0186,1.000)" font-size="11.6">Capillary Force (Max)</text>
<text transform="translate(91.66,55.50) scale(1.0075,1.000)" font-size="11.6">Electrostatic Force</text>
<text transform="translate(92.40,70.40) scale(1.0047,1.000)" font-size="11.6">van der Waals Force</text>
<text transform="translate(191.31,70.40) scale(0.9555,1.000)" font-size="11.6">(h</text>
<text transform="translate(204.98,71.20) scale(1.2412,1.000)" font-size="11.6">=</text>
<text transform="translate(215.80,70.40) scale(0.9826,1.000)" font-size="11.6">1.65</text>
<text transform="translate(239.65,71.40) scale(1.1445,1.000)" font-size="11.6">×</text>
<text transform="translate(249.55,70.40) scale(0.9271,1.000)" font-size="11.6">10</text>
<text transform="translate(260.29,66.55) scale(1.1502,1.000)" font-size="7.5" font-family='"DejaVu Serif", serif'>−</text>
<text transform="translate(267.19,66.50) scale(1.0689,1.000)" font-size="7.6">10</text>
<text transform="translate(279.66,70.40) scale(0.9891,1.000)" font-size="11.6">m)</text>
<text transform="translate(92.40,85.30) scale(1.0047,1.000)" font-size="11.6">van der Waals Force</text>
<text transform="translate(191.31,85.30) scale(0.9555,1.000)" font-size="11.6">(h</text>
<text transform="translate(204.98,86.10) scale(1.2412,1.000)" font-size="11.6">=</text>
<text transform="translate(216.57,85.30) scale(1.0266,1.000)" font-size="11.6">4.0</text>
<text transform="translate(233.89,86.30) scale(1.1021,1.000)" font-size="11.6">×</text>
<text transform="translate(244.07,85.30) scale(0.9074,1.000)" font-size="11.6">10</text>
<text transform="translate(254.49,81.45) scale(1.1502,1.000)" font-size="7.5" font-family='"DejaVu Serif", serif'>−</text>
<text transform="translate(261.19,81.40) scale(1.0689,1.000)" font-size="7.6">10</text>
<text transform="translate(273.66,85.30) scale(0.9891,1.000)" font-size="11.6">m)</text>
</g>
<g font-family="'Liberation Serif', serif" fill="#262626" stroke="#262626" stroke-width="0.06">
<text transform="translate(40.95,285.90) scale(0.9352,1.000)" font-size="11.5">10</text>
<text transform="translate(54.05,280.07) scale(1.0426,1.000)" font-size="9.5" font-family='"DejaVu Serif", serif'>−</text>
<text transform="translate(62.49,279.70) scale(0.9596,1.000)" font-size="10">6</text>
<text transform="translate(160.02,285.90) scale(0.9651,1.000)" font-size="11.5">10</text>
<text transform="translate(173.28,280.07) scale(1.0089,1.000)" font-size="9.5" font-family='"DejaVu Serif", serif'>−</text>
<text transform="translate(181.16,279.70) scale(1.2660,1.000)" font-size="10">5</text>
<text transform="translate(279.36,285.90) scale(1.0297,1.000)" font-size="11.5">10</text>
<text transform="translate(292.75,280.07) scale(0.9417,1.000)" font-size="9.5" font-family='"DejaVu Serif", serif'>−</text>
<text transform="translate(301.31,279.70) scale(0.9681,1.000)" font-size="10">4</text>
<text transform="translate(398.90,285.90) scale(0.9850,1.000)" font-size="11.5">10</text>
<text transform="translate(411.75,280.07) scale(1.0426,1.000)" font-size="9.5" font-family='"DejaVu Serif", serif'>−</text>
<text transform="translate(420.09,279.70) scale(1.0652,1.000)" font-size="10">3</text>
<text transform="translate(518.64,285.90) scale(0.9452,1.000)" font-size="11.5">10</text>
<text transform="translate(531.37,280.07) scale(1.0258,1.000)" font-size="9.5" font-family='"DejaVu Serif", serif'>−</text>
<text transform="translate(539.68,279.70) scale(1.1724,1.000)" font-size="10">2</text>
<text transform="translate(21.42,43.80) scale(0.9651,1.000)" font-size="11.5">10</text>
<text transform="translate(34.13,38.17) scale(1.0594,1.000)" font-size="9.5" font-family='"DejaVu Serif", serif'>−</text>
<text transform="translate(42.34,37.60) scale(1.2722,1.000)" font-size="10">2</text>
<text transform="translate(21.42,109.60) scale(0.9651,1.000)" font-size="11.5">10</text>
<text transform="translate(34.13,103.97) scale(1.0594,1.000)" font-size="9.5" font-family='"DejaVu Serif", serif'>−</text>
<text transform="translate(42.69,103.40) scale(1.0971,1.000)" font-size="10">4</text>
<text transform="translate(21.42,175.40) scale(0.9651,1.000)" font-size="11.5">10</text>
<text transform="translate(34.13,169.77) scale(1.0594,1.000)" font-size="9.5" font-family='"DejaVu Serif", serif'>−</text>
<text transform="translate(42.39,169.20) scale(1.1937,1.000)" font-size="10">6</text>
<text transform="translate(21.42,241.00) scale(0.9651,1.000)" font-size="11.5">10</text>
<text transform="translate(34.13,235.37) scale(1.0594,1.000)" font-size="9.5" font-family='"DejaVu Serif", serif'>−</text>
<text transform="translate(42.44,234.80) scale(1.2033,1.000)" font-size="10">8</text>
<g stroke-width="0.13">
<text transform="translate(258.96,300.70) scale(1.0085,1.000)" font-size="11.8">Diameter [m]</text>
<g transform="translate(15.4,190.5) rotate(-90)">
<text transform="translate(-0.13,0.00) scale(0.9983,1.000)" font-size="11.8">Inter-Particle Force [N]</text>
</g>
</g>
</g>
</svg>
</body></html>
